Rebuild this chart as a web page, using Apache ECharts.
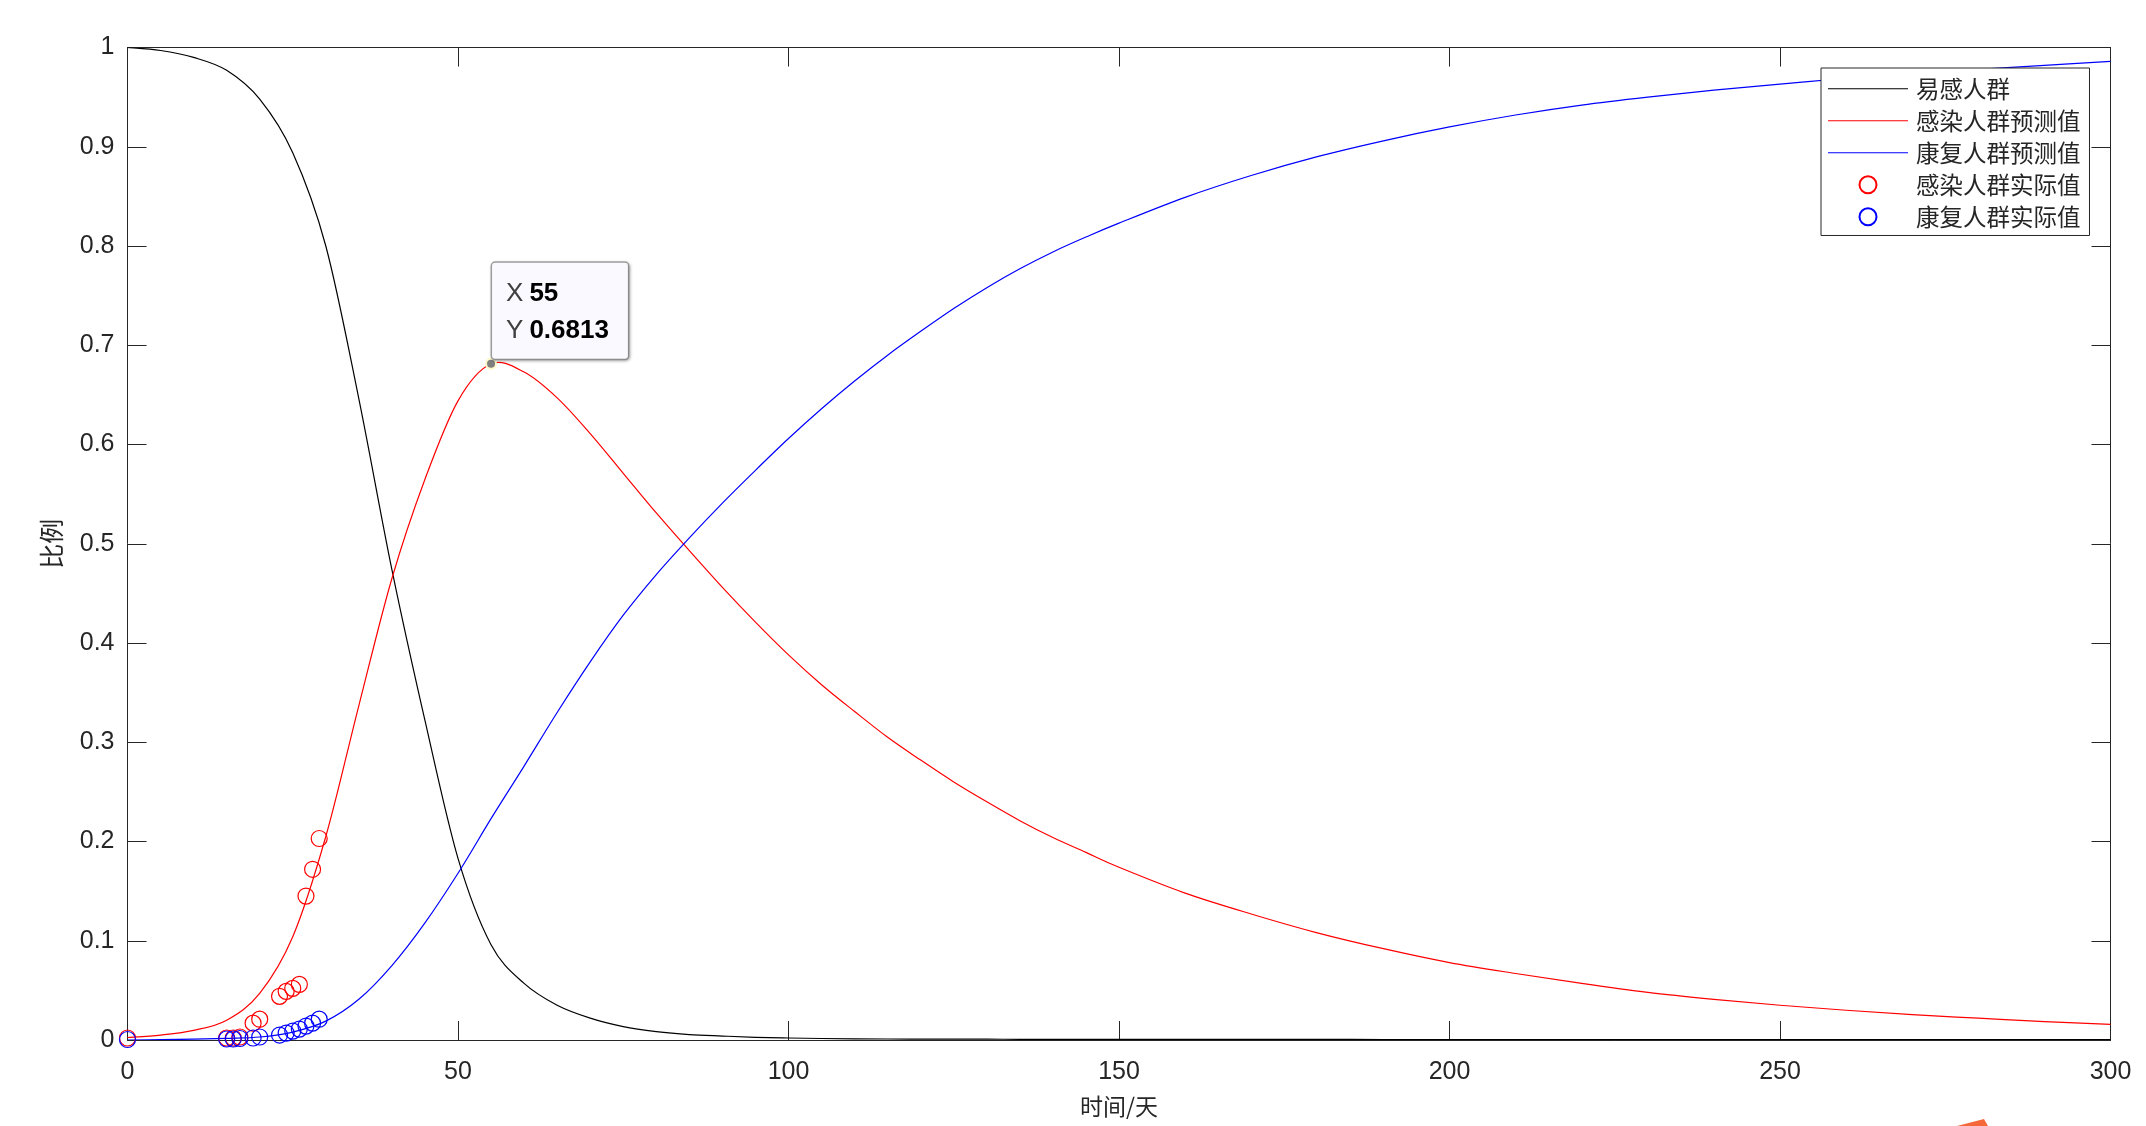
<!DOCTYPE html>
<html>
<head>
<meta charset="utf-8">
<script src="https://cdn.jsdelivr.net/npm/echarts@6/dist/echarts.min.js"></script>
<style>
html,body{margin:0;padding:0;background:#ffffff;}
#chart{width:2146px;height:1126px;}
</style>
</head>
<body>
<div id="chart"></div>
<script>
// ---- data ----
const days = [0,5,10,15,20,25,30,35,40,45,50,55,60,65,70,75,80,85,90,95,100,105,110,115,120,125,130,135,140,145,150,160,170,180,190,200,210,220,230,240,250,260,270,280,290,300];
const susceptible = [1.0,0.997,0.990,0.977,0.948,0.894,0.800,0.646,0.474,0.322,0.183,0.096,0.057,0.035,0.022,0.0135,0.0085,0.0055,0.004,0.0027,0.002,0.0015,0.0012,0.001,0.0009,0.0008,0.0008,0.0007,0.0007,0.0007,0.0007,0.0006,0.0006,0.0006,0.0005,0.0005,0.0005,0.0005,0.0005,0.0005,0.0005,0.0005,0.0005,0.0005,0.0005,0.0005];
const infectedPred = [0.0025,0.005,0.0097,0.020,0.047,0.104,0.205,0.337,0.465,0.565,0.644,0.6813,0.673,0.647,0.611,0.571,0.531,0.493,0.456,0.421,0.388,0.358,0.331,0.305,0.282,0.260,0.240,0.221,0.204,0.189,0.174,0.148,0.127,0.108,0.092,0.078,0.067,0.057,0.048,0.041,0.035,0.030,0.0255,0.022,0.0185,0.0158];
const recoveredPred = [0,0.0003,0.0008,0.0017,0.003,0.008,0.019,0.041,0.075,0.118,0.168,0.223,0.276,0.330,0.381,0.428,0.469,0.506,0.541,0.574,0.606,0.636,0.664,0.690,0.714,0.737,0.758,0.777,0.794,0.809,0.823,0.849,0.871,0.890,0.906,0.920,0.932,0.942,0.950,0.957,0.963,0.969,0.974,0.978,0.982,0.986];

const obsDays = [0,15,16,17,19,20,23,24,25,26,27,28,29];
const obsInfected = [0.002,0.002,0.002,0.003,0.017,0.021,0.044,0.049,0.052,0.056,0.145,0.172,0.203];
const obsRecovered = [0.0005,0.001,0.001,0.0015,0.002,0.003,0.005,0.007,0.009,0.011,0.014,0.017,0.021];

const seriesNames = ['易感人群','感染人群预测值','康复人群预测值','感染人群实际值','康复人群实际值'];
const xName = '时间/天';
const yName = '比例';
const xMin = 0, xMax = 300, xStep = 50;
const yMin = 0, yMax = 1, yStep = 0.1;
const tipX = 55, tipY = 0.6813;

// ---- build ----
const pairs = (xs, ys) => xs.map((x, i) => [x, ys[i]]);
const axisColor = '#262626';
const tickFont = "'Liberation Sans', Arial, sans-serif";
const cjkFont = "'Noto Sans CJK SC', sans-serif";
const lineIcon = 'path://M0,0H80V1.2H0Z';

// Catmull-Rom spline through pixel points obtained from the axis scales
function splinePath(pts) {
  let d = 'M' + pts[0][0] + ',' + pts[0][1];
  for (let i = 0; i < pts.length - 1; i++) {
    const p0 = pts[i - 1] || pts[i], p1 = pts[i], p2 = pts[i + 1], p3 = pts[i + 2] || pts[i + 1];
    const c1x = p1[0] + (p2[0] - p0[0]) / 6, c1y = p1[1] + (p2[1] - p0[1]) / 6;
    const c2x = p2[0] - (p3[0] - p1[0]) / 6, c2y = p2[1] - (p3[1] - p1[1]) / 6;
    d += 'C' + c1x + ',' + c1y + ',' + c2x + ',' + c2y + ',' + p2[0] + ',' + p2[1];
  }
  return d;
}

const curveSeries = (name, ys, color) => ({
  name: name, type: 'custom', data: pairs(days, ys),
  encode: {x: 0, y: 1},
  itemStyle: {color: color}, clip: true, silent: true, z: 3,
  renderItem: function (params, api) {
    if (params.dataIndex !== 0) return null;
    const pts = days.map((d, i) => api.coord([d, ys[i]]));
    return {
      type: 'path',
      shape: {pathData: splinePath(pts)},
      style: {fill: 'none', stroke: color, lineWidth: 1.2}
    };
  }
});

const scatterSeries = (name, ys, color) => ({
  name: name, type: 'scatter', data: pairs(obsDays, ys),
  symbol: 'circle', symbolSize: 16,
  itemStyle: {color: 'rgba(0,0,0,0)', borderColor: color, borderWidth: 1.2, opacity: 1},
  emphasis: {disabled: true}, silent: true, z: 4
});

const baseAxis = {
  axisLine: {show: true, onZero: false, lineStyle: {color: axisColor, width: 1}},
  axisTick: {show: true, inside: true, length: 19, lineStyle: {color: axisColor, width: 1}},
  splitLine: {show: false}
};

const chart = echarts.init(document.getElementById('chart'), null, {renderer: 'canvas'});
chart.setOption({
  animation: false,
  backgroundColor: '#ffffff',
  grid: {left: 127.5, top: 47.5, right: 35.5, bottom: 86, outerBoundsMode: 'none', containLabel: false},
  legend: {
    data: [
      {name: seriesNames[0], icon: lineIcon},
      {name: seriesNames[1], icon: lineIcon},
      {name: seriesNames[2], icon: lineIcon},
      {name: seriesNames[3]},
      {name: seriesNames[4]}
    ],
    orient: 'vertical', left: 1821, top: 68,
    itemWidth: 80, itemHeight: 17, itemGap: 8.5,
    padding: [9, 9, 7, 7],
    backgroundColor: '#ffffff', borderColor: axisColor, borderWidth: 1, borderRadius: 0,
    textStyle: {fontFamily: cjkFont, fontSize: 23.5, color: axisColor, padding: [0, 0, 0, 3]},
    selectedMode: false
  },
  xAxis: [
    Object.assign({}, baseAxis, {
      type: 'value', position: 'bottom', min: xMin, max: xMax, interval: xStep,
      axisLabel: {fontFamily: tickFont, fontSize: 25, color: axisColor, margin: 20},
      name: xName, nameLocation: 'middle', nameGap: 55,
      nameTextStyle: {fontFamily: cjkFont, fontSize: 23, color: axisColor}
    }),
    Object.assign({}, baseAxis, {
      type: 'value', position: 'top', min: xMin, max: xMax, interval: xStep,
      axisLabel: {show: false}
    })
  ],
  yAxis: [
    Object.assign({}, baseAxis, {
      type: 'value', position: 'left', min: yMin, max: yMax, interval: yStep,
      axisLabel: {fontFamily: tickFont, fontSize: 25, color: axisColor, margin: 13},
      name: yName, nameLocation: 'middle', nameGap: 63, nameRotate: 90,
      nameTextStyle: {fontFamily: cjkFont, fontSize: 25, color: axisColor}
    }),
    Object.assign({}, baseAxis, {
      type: 'value', position: 'right', min: yMin, max: yMax, interval: yStep,
      axisLabel: {show: false}
    })
  ],
  series: [
    curveSeries(seriesNames[0], susceptible, '#000000'),
    curveSeries(seriesNames[1], infectedPred, '#ff0000'),
    curveSeries(seriesNames[2], recoveredPred, '#0000ff'),
    scatterSeries(seriesNames[3], obsInfected, '#ff0000'),
    scatterSeries(seriesNames[4], obsRecovered, '#0000ff'),
    {
      name: 'datatip', type: 'scatter', data: [[tipX, tipY]],
      symbol: 'circle', symbolSize: 10, silent: true, z: 6,
      itemStyle: {color: '#7f7f7f', borderColor: '#fff8c8', borderWidth: 2, opacity: 1},
      label: {
        show: true, position: [7, -95], opacity: 1,
        formatter: '{n|X}{b|' + tipX + '}\n{n|Y}{b|' + tipY.toFixed(4) + '}',
        backgroundColor: '#f9f9ff', borderColor: '#a3a3a3', borderWidth: 1.5, borderRadius: 3,
        padding: [13, 19, 9, 14],
        shadowColor: 'rgba(0,0,0,0.25)', shadowBlur: 3, shadowOffsetX: 1, shadowOffsetY: 1,
        rich: {
          n: {fontFamily: tickFont, fontSize: 26, color: '#404040', lineHeight: 37, padding: [0, 6, 0, 0]},
          b: {fontFamily: tickFont, fontSize: 26, fontWeight: 'bold', color: '#000000', lineHeight: 37}
        }
      }
    }
  ],
  graphic: [{
    type: 'polygon', silent: true,
    shape: {points: [[1957, 1126], [1984, 1119], [1988, 1126]]},
    style: {fill: '#f4683a'}
  }]
});
</script>
</body>
</html>
